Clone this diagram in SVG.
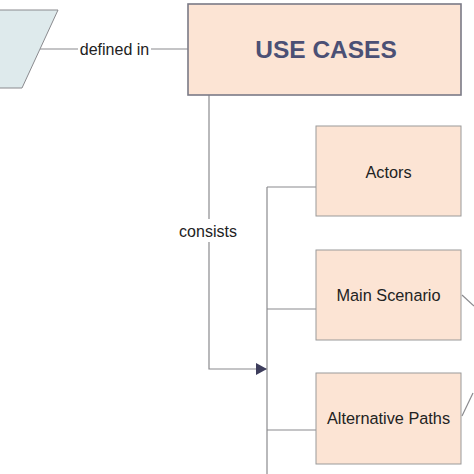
<svg xmlns="http://www.w3.org/2000/svg" width="474" height="474" viewBox="0 0 474 474">
<style>
.box{fill:#fce4d4;stroke:#9a9a9a;stroke-width:1}
.main{fill:#fce4d4;stroke:#7a7a86;stroke-width:1.6}
.ln{fill:none;stroke:#8a8a8e;stroke-width:1.2}
.lbl{font-family:"Liberation Sans",Arial,sans-serif;font-size:16px;fill:#222}
.t{font-family:"Liberation Sans",Arial,sans-serif;font-size:16.3px;fill:#222;text-anchor:middle}
</style>
<defs>
<marker id="arr" markerWidth="12" markerHeight="12" refX="11" refY="6" orient="auto" markerUnits="userSpaceOnUse">
<path d="M0,0 L11,6 L0,12 Z" fill="#3d3d5c"/>
</marker>
</defs>
<rect width="474" height="474" fill="#fff"/>
<g id="connectors">
<line class="ln" x1="40" y1="49" x2="78" y2="49"/>
<line class="ln" x1="151" y1="49" x2="188" y2="49"/>
<text class="lbl" x="114.5" y="55" text-anchor="middle">defined in</text>
<polyline class="ln" points="209,95 209,219"/>
<polyline class="ln" points="209,242 209,369 267,369" marker-end="url(#arr)"/>
<text class="lbl" x="208" y="237" text-anchor="middle">consists</text>
<line class="ln" x1="267" y1="187" x2="267" y2="474"/>
<line class="ln" x1="267" y1="187" x2="316" y2="187"/>
<line class="ln" x1="267" y1="309" x2="316" y2="309"/>
<line class="ln" x1="267" y1="430" x2="316" y2="430"/>
<line class="ln" x1="462" y1="295" x2="474" y2="306" stroke-width="0.9"/>
<line class="ln" x1="462" y1="416" x2="473" y2="393" stroke-width="0.9"/>
</g>
<g id="source">
<polygon points="-20,10 58,10 22,88 -20,88" fill="#deeaec" stroke="#8a8a8e" stroke-width="1"/>
</g>
<g id="use-cases">
<rect class="main" x="188" y="4" width="273" height="91"/>
<text x="326" y="58" text-anchor="middle" font-family="Liberation Sans,Arial,sans-serif" font-weight="bold" font-size="24.5" fill="#4b5075">USE CASES</text>
</g>
<g id="actors">
<rect class="box" x="316" y="126" width="145" height="90"/>
<text class="t" x="388.5" y="178">Actors</text>
</g>
<g id="main-scenario">
<rect class="box" x="316" y="250" width="145" height="90"/>
<text class="t" x="388.5" y="301">Main Scenario</text>
</g>
<g id="alternative-paths">
<rect class="box" x="316" y="373" width="145" height="91"/>
<text class="t" x="388.5" y="424">Alternative Paths</text>
</g>
</svg>
